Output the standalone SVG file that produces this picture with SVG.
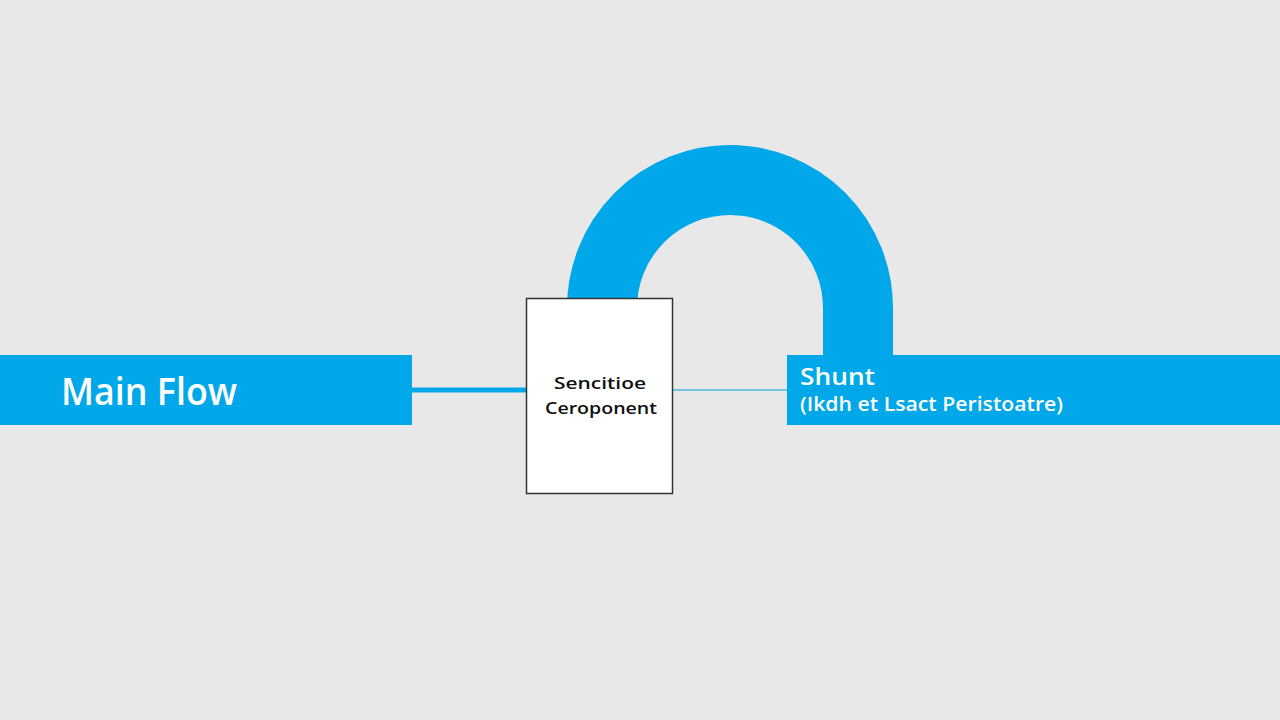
<svg xmlns="http://www.w3.org/2000/svg" width="1280" height="720" viewBox="0 0 1280 720">
  <style>
    .bar { fill: #00A8EA; }
    .label { font-family: "Open Sans", "Liberation Sans", Arial, sans-serif; fill: #ffffff; font-weight: 600; }
    .dark { font-family: "Open Sans", "Liberation Sans", Arial, sans-serif; fill: #111111; font-weight: 600; }
  </style>
  <rect x="0" y="0" width="1280" height="720" fill="#E8E8E8"/>
  <g id="connectors">
    <path id="shunt-arch" d="M 602 360 L 602 308 A 128 128 0 0 1 858 308 L 858 360" fill="none" stroke="#00A8EA" stroke-width="70"/>
    <line id="main-to-component" x1="410" y1="390" x2="528" y2="390" stroke="#00A8EA" stroke-width="5"/>
    <line id="component-to-shunt" x1="672" y1="390" x2="790" y2="390" stroke="#4DB8E2" stroke-width="1.5"/>
  </g>
  <g id="main-flow">
    <rect class="bar" x="0" y="355" width="412" height="70"/>
    <text class="label" x="61" y="405" font-size="37" font-weight="500" textLength="176" lengthAdjust="spacingAndGlyphs">Main Flow</text>
  </g>
  <g id="sensitive-component">
    <rect x="526.5" y="298.5" width="146" height="195" fill="#ffffff" stroke="#333333" stroke-width="1.5"/>
    <text class="dark" x="600" y="389" font-size="17" text-anchor="middle" textLength="92" lengthAdjust="spacingAndGlyphs">Sencitioe</text>
    <text class="dark" x="601" y="414" font-size="17" text-anchor="middle" textLength="112" lengthAdjust="spacingAndGlyphs">Ceroponent</text>
  </g>
  <g id="shunt">
    <rect class="bar" x="787" y="355" width="493" height="70"/>
    <text class="label" x="800" y="385" font-size="24" textLength="75" lengthAdjust="spacingAndGlyphs">Shunt</text>
    <text class="label" x="800" y="411" font-size="19" textLength="263" lengthAdjust="spacingAndGlyphs">(Ikdh et Lsact Peristoatre)</text>
  </g>
</svg>
